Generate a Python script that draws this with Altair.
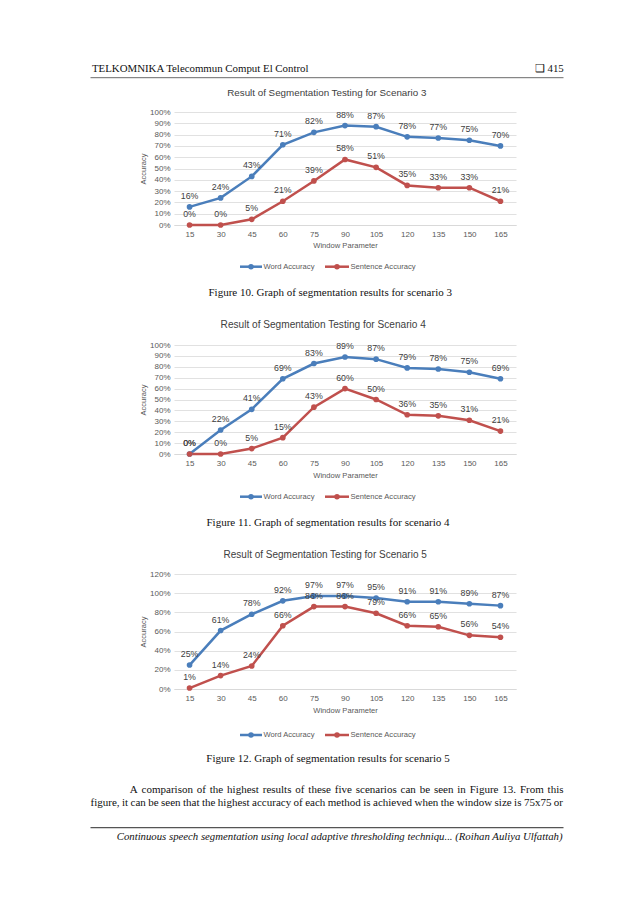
import altair as alt
import pandas as pd

# ---------------- data ----------------
windows = [15, 30, 45, 60, 75, 90, 105, 120, 135, 150, 165]
series_names = ["Word Accuracy", "Sentence Accuracy"]

s3_word = [16, 24, 43, 71, 82, 88, 87, 78, 77, 75, 70]
s3_sentence = [0, 0, 5, 21, 39, 58, 51, 35, 33, 33, 21]
s4_word = [0, 22, 41, 69, 83, 89, 87, 79, 78, 75, 69]
s4_sentence = [0, 0, 5, 15, 43, 60, 50, 36, 35, 31, 21]
s5_word = [25, 61, 78, 92, 97, 97, 95, 91, 91, 89, 87]
s5_sentence = [1, 14, 24, 66, 86, 86, 79, 66, 65, 56, 54]

y_ticks_34 = list(range(0, 101, 10))
y_ticks_5 = list(range(0, 121, 20))

chart_titles = ["Result of Segmentation Testing for Scenario 3",
                "Result of Segmentation Testing for Scenario 4",
                "Result of Segmentation Testing for Scenario 5"]
x_title = "Window Parameter"
y_title = "Accuracy"
captions = ["Figure 10. Graph of segmentation results for scenario 3",
            "Figure 11. Graph of segmentation results for scenario 4",
            "Figure 12. Graph of segmentation results for scenario 5"]
header_left = "TELKOMNIKA Telecommun Comput El Control"
header_right = "\u2751 415"
paragraph = ["A comparison of the highest results of these five scenarios can be seen in Figure 13. From this",
             "figure, it can be seen that the highest accuracy of each method is achieved when the window size is 75x75 or"]
footer = "Continuous speech segmentation using local adaptive thresholding techniqu... (Roihan Auliya Ulfattah)"

# ---------------- style / layout ----------------
BLUE = "#4A7EBB"
RED = "#C0504D"
SANS = "Liberation Sans"
SERIF = "Liberation Serif"
GRID = "#D9D9D9"
LABEL = "#595959"
INK = "#111111"

LEFT = 173.5          # page x of plot left edge
W = 342               # plot width
TOPS = [112, 345, 574]
HEIGHTS = [113, 109, 115]
SPACING = 120

# Times (Liberation Serif) advance widths, per 1000 em, for justified body text
TIMES_W = {" ": 250, "A": 722, "F": 556, ".": 250, ",": 250,
           "a": 444, "b": 500, "c": 444, "d": 500, "e": 444, "f": 333, "g": 500,
           "h": 500, "i": 278, "j": 278, "k": 500, "l": 278, "m": 778, "n": 500,
           "o": 500, "p": 500, "q": 500, "r": 333, "s": 389, "t": 278, "u": 500,
           "v": 500, "w": 722, "x": 500, "y": 500, "z": 444}


def one_row():
    return pd.DataFrame({"t": [""]})


def text_layer(top, s, x, y, size, font=SANS, align="center", color="#404040",
               style="normal", weight="normal"):
    return alt.Chart(pd.DataFrame({"t": [s]})).mark_text(
        align=align, baseline="middle", fontSize=size, font=font, color=color,
        fontStyle=style, fontWeight=weight
    ).encode(x=alt.value(x - LEFT), y=alt.value(y - top), text="t:N")


def justified(top, line, x1, x2, y, size):
    words = line.split(" ")
    widths = [sum(TIMES_W.get(c, 500) for c in w) / 1000 * size for w in words]
    gap = (x2 - x1 - sum(widths)) / (len(words) - 1)
    out = []
    x = x1
    for w, wd in zip(words, widths):
        out.append(text_layer(top, w, x, y, size, font=SERIF, align="left", color=INK))
        x += wd + gap
    return out


def hrule(top, x1, x2, y, color, width):
    return alt.Chart(one_row()).mark_rule(color=color, strokeWidth=width).encode(
        x=alt.value(x1 - LEFT), x2=alt.value(x2 - LEFT), y=alt.value(y - top))


def legend_layers(top, y):
    out = []
    entries = [(series_names[0], BLUE, 239.5, 261.5, 263.0),
               (series_names[1], RED, 324.5, 348.5, 350.0)]
    for name, col, x1, x2, xt in entries:
        out.append(hrule(top, x1, x2, y, col, 2.5))
        out.append(alt.Chart(one_row()).mark_circle(color=col, size=30, opacity=1).encode(
            x=alt.value((x1 + x2) / 2 - LEFT), y=alt.value(y - top)))
        out.append(text_layer(top, name, xt, y, 7.6, align="left", color=LABEL))
    return out


def panel(idx, word, sent, ymax, yticks, title_pos, title_size, xtitle_y, legend_y, caption_pos, extras):
    top = TOPS[idx]
    h = HEIGHTS[idx]
    df = pd.DataFrame({
        "window": windows * 2,
        "series": [series_names[0]] * len(windows) + [series_names[1]] * len(windows),
        "value": word + sent,
    })
    x_enc = alt.X("window:O", scale=alt.Scale(type="point", padding=0.5),
                  axis=alt.Axis(labelAngle=0, grid=False, domain=True, domainColor=GRID,
                                domainWidth=1, ticks=False, labelPadding=5, labelFontSize=8,
                                labelColor=LABEL, labelFont=SANS, title=x_title,
                                titleFontSize=7.6, titleColor=LABEL, titleFont=SANS,
                                titleFontWeight="normal", titleY=xtitle_y - (top + h),
                                titleBaseline="middle"))
    y_enc = alt.Y("value:Q", scale=alt.Scale(domain=[0, ymax], nice=False),
                  axis=alt.Axis(values=yticks, labelExpr="datum.value + '%'", grid=True,
                                gridColor=GRID, gridWidth=0.8, domain=False, ticks=False,
                                labelPadding=4, labelFontSize=8, labelColor=LABEL,
                                labelFont=SANS, title=y_title, titleFontSize=7.5,
                                titleColor=LABEL, titleFont=SANS, titleFontWeight="normal",
                                titleX=142.5 - LEFT, titleY=h / 2, titleBaseline="middle"))
    color_enc = alt.Color("series:N", scale=alt.Scale(domain=series_names, range=[BLUE, RED]),
                          legend=None, sort=series_names)
    base = alt.Chart(df).encode(x=x_enc, y=y_enc)
    lines = base.mark_line(strokeWidth=2.5).encode(color=color_enc)
    pts = base.mark_circle(size=32, opacity=1).encode(color=color_enc)
    labels = base.mark_text(dy=-11, fontSize=8.8, font=SANS, color="#404040").encode(
        text="label:N").transform_calculate(label="datum.value + '%'")

    layers = [lines, pts, labels]
    if idx == 0:
        # tiny white corner mark at the page's top-left: fixes the page origin
        layers.append(alt.Chart(one_row()).mark_rect(color="white").encode(
            x=alt.value(8 - LEFT), x2=alt.value(9 - LEFT),
            y=alt.value(8 - top), y2=alt.value(9 - top)))
    layers.append(text_layer(top, chart_titles[idx], title_pos[0], title_pos[1], title_size,
                             color="#404040"))
    layers += legend_layers(top, legend_y)
    layers.append(text_layer(top, captions[idx], caption_pos[0], caption_pos[1], 11,
                             font=SERIF, color=INK))
    layers += extras(top)
    return alt.layer(*layers).properties(width=W, height=h)


def extras1(top):
    return [
        text_layer(top, header_left, 91.5, 68.5, 10.85, font=SERIF, align="left", color=INK),
        text_layer(top, header_right, 563.3, 69, 10.85, font=SERIF, align="right", color=INK),
        hrule(top, 90, 563, 77.7, "#444444", 0.8),
    ]


def extras2(top):
    return []


def extras3(top):
    return (justified(top, paragraph[0], 129.3, 563, 789.5, 11)
            + justified(top, paragraph[1], 90, 562.5, 802.5, 11)
            + [hrule(top, 90, 563, 827.7, "#555555", 1.2),
               text_layer(top, footer, 562, 836.5, 10.75, font=SERIF, align="right",
                          color=INK, style="italic")])


p3 = panel(0, s3_word, s3_sentence, 100, y_ticks_34, (326.3, 93), 9.8, 245.7, 266.7,
           (329.7, 293), extras1)
p4 = panel(1, s4_word, s4_sentence, 100, y_ticks_34, (322.7, 325), 10.1, 475, 496.7,
           (327.5, 523), extras2)
p5 = panel(2, s5_word, s5_sentence, 120, y_ticks_5, (324.7, 555), 10, 710, 735,
           (327.5, 759), extras3)

chart = alt.vconcat(p3, p4, p5, spacing=SPACING, bounds="flush").resolve_scale(
    x="independent", y="independent", color="independent"
).properties(padding=0, background="white").configure_view(stroke=None)

chart.save("out.html", embed_options={"renderer": "svg", "actions": False})
